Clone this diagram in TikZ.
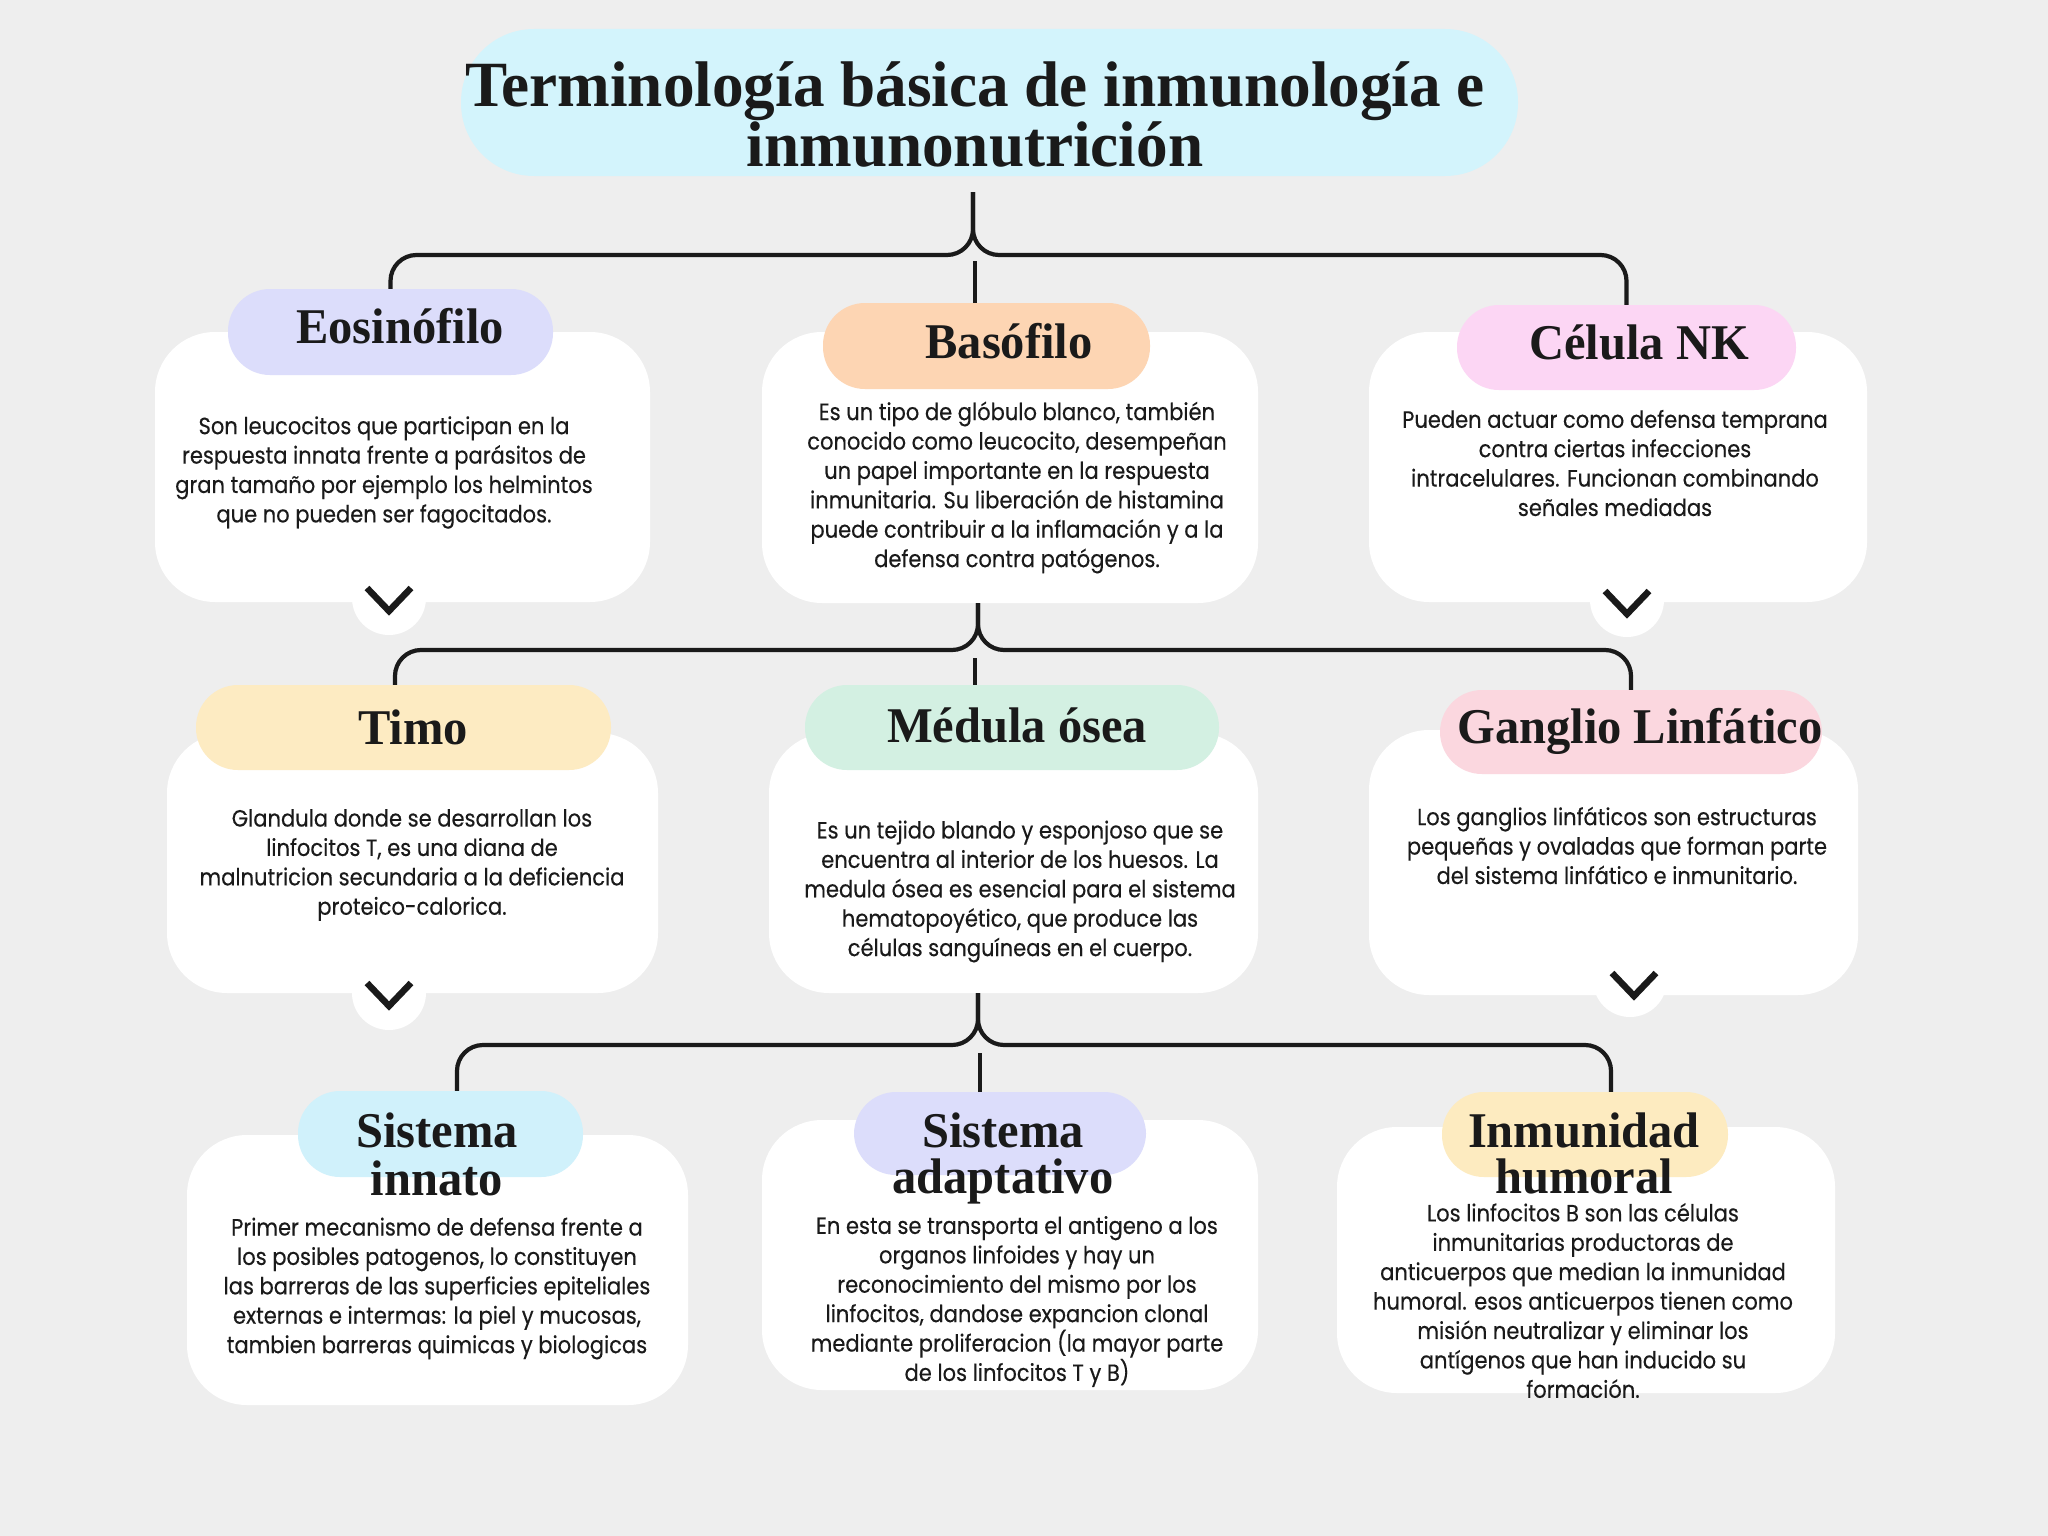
\documentclass[tikz,border=0pt]{standalone}
\usepackage{fontspec}
\newfontfamily\headfont[FakeStretch=0.97]{Liberation Serif}
\newfontfamily\titlefont[FakeStretch=0.98]{Liberation Serif}
\newfontfamily\bodyfont[FakeStretch=0.895,FakeBold=0.3]{Poppins}
\definecolor{bg}{HTML}{EEEEEE}
\definecolor{ink}{HTML}{1A1A1A}
\definecolor{ctitle}{HTML}{D3F4FC}
\definecolor{ceos}{HTML}{DCDDFB}
\definecolor{cbas}{HTML}{FDD5B3}
\definecolor{cnk}{HTML}{FCD6F4}
\definecolor{ctimo}{HTML}{FDEBC2}
\definecolor{cmed}{HTML}{D3F0E2}
\definecolor{cgan}{HTML}{FBD7DF}
\definecolor{cinn}{HTML}{D0F1FB}
\definecolor{cada}{HTML}{DCDDFB}
\definecolor{chum}{HTML}{FDEBC0}
\tikzset{
  conn/.style={draw=ink, line width=4.2pt, rounded corners=26pt},
  card/.style={fill=white, rounded corners=60pt, inner sep=0pt},
  pill/.style={rounded corners=42pt, inner sep=0pt},
  headtext/.style={font=\headfont\bfseries\fontsize{50}{50}\selectfont, text=ink, inner sep=0pt, anchor=base},
  titletext/.style={font=\titlefont\bfseries\fontsize{64.5}{64.5}\selectfont, text=ink, inner sep=0pt, anchor=base},
  bodytext/.style={font=\bodyfont\fontsize{23.5}{29.4}\selectfont, text=ink, align=center, inner sep=0pt},
  chev/.style={draw=ink, line width=6.5pt, line cap=butt, line join=miter},
  bump/.style={fill=white}
}
\begin{document}
\begin{tikzpicture}[x=1pt,y=-1pt]
\fill[bg] (0,0) rectangle (2048,1536);
\useasboundingbox (0,0) rectangle (2048,1536);

% ---------- title ----------
\node[pill, fill=ctitle, minimum width=1057pt, minimum height=147pt, rounded corners=73pt] (title) at (989.5,102.5) {};
\node[titletext] (titleA) at (975,107) {Terminología básica de inmunología e};
\node[titletext] (titleB) at (975,166) {inmunonutrición};

% ---------- cards ----------
\node[card, minimum width=495pt, minimum height=270pt] (eosC) at (402.5,467) {};
\node[card, minimum width=496pt, minimum height=271pt] (basC) at (1010,467.5) {};
\node[card, minimum width=498pt, minimum height=270pt] (nkC) at (1618,467) {};
\node[card, minimum width=491pt, minimum height=260pt] (timoC) at (412.5,863) {};
\node[card, minimum width=489pt, minimum height=260pt] (medC) at (1013.5,863) {};
\node[card, minimum width=489pt, minimum height=265pt] (ganC) at (1613.5,862.5) {};
\node[card, minimum width=501pt, minimum height=270pt] (innC) at (437.5,1270) {};
\node[card, minimum width=496pt, minimum height=270pt] (adaC) at (1010,1255) {};
\node[card, minimum width=498pt, minimum height=266pt] (humC) at (1586,1260) {};

% bumps under chevrons
\fill[bump] (389,598) circle (37pt);
\fill[bump] (1627,600) circle (37pt);
\fill[bump] (389,993) circle (37pt);
\fill[bump] (1630,980) circle (37pt);

% ---------- connectors ----------
\coordinate (b1t) at (973,192);
\coordinate (b1) at (973,255);
\coordinate (b1l) at (975,261);
\coordinate (b2) at (978,650);
\coordinate (b2l) at (975,658);
\coordinate (c2l) at (395,650);
\coordinate (b3) at (978,1045);
\coordinate (b3l) at (980,1053);
\coordinate (c3l) at (457,1045);
\coordinate (c3r) at (1611,1045);

% ---------- header pills ----------
\node[pill, fill=ceos, minimum width=325pt, minimum height=86pt] (eosH) at (390.5,332) {};
\node[pill, fill=cbas, minimum width=327pt, minimum height=86pt] (basH) at (986.5,346) {};
\node[pill, fill=cnk, minimum width=339pt, minimum height=85pt] (nkH) at (1626.5,347.5) {};
\node[pill, fill=ctimo, minimum width=415pt, minimum height=85pt] (timoH) at (403.5,727.5) {};
\node[pill, fill=cmed, minimum width=414pt, minimum height=85pt] (medH) at (1012,727.5) {};
\node[pill, fill=cgan, minimum width=382pt, minimum height=84pt] (ganH) at (1631,732) {};
\node[pill, fill=cinn, minimum width=285pt, minimum height=86pt] (innH) at (440.5,1134) {};
\node[pill, fill=cada, minimum width=292pt, minimum height=83pt] (adaH) at (1000,1133.5) {};
\node[pill, fill=chum, minimum width=286pt, minimum height=85pt] (humH) at (1585,1134.5) {};

\draw[conn] (b1t) -- (b1) -| (eosH.north);
\draw[conn] (b1t) -- (b1) -| (nkH.north);
\draw[conn] (b1l) -- (b1l |- basH.north);

\draw[conn] (b2 |- basC.south) -- (b2) -| (c2l |- timoH.north);
\draw[conn] (b2 |- basC.south) -- (b2) -| (ganH.north);
\draw[conn] (b2l) -- (b2l |- medH.north);

\draw[conn] (b3 |- medC.south) -- (b3) -| (c3l |- innH.north);
\draw[conn] (b3 |- medC.south) -- (b3) -| (c3r |- humH.north);
\draw[conn] (b3l) -- (b3l |- adaH.north);

% ---------- header texts ----------
\node[headtext] (eosN) at (400,343) {Eosinófilo};
\node[headtext] (basN) at (1009,358) {Basófilo};
\node[headtext] (nkN) at (1639,359) {Célula NK};
\node[headtext] (timoN) at (413,744) {Timo};
\node[headtext] (medN) at (1017,742) {Médula ósea};
\node[headtext] (ganN) at (1640,743) {Ganglio Linfático};
\node[headtext] (innNa) at (437,1147) {Sistema};
\node[headtext] (innNb) at (437,1195) {innato};
\node[headtext] (adaNa) at (1003,1147) {Sistema};
\node[headtext] (adaNb) at (1003,1193) {adaptativo};
\node[headtext] (humNa) at (1584,1147) {Inmunidad};
\node[headtext] (humNb) at (1584,1193) {humoral};

% ---------- body texts ----------
\node[bodytext] (eosT) at (384,472.5) {Son leucocitos que participan en la\\respuesta innata frente a parásitos de\\gran tamaño por ejemplo los helmintos\\que no pueden ser fagocitados.};
\node[bodytext] (basT) at (1017,487.5) {Es un tipo de glóbulo blanco, también\\conocido como leucocito, desempeñan\\un papel importante en la respuesta\\inmunitaria. Su liberación de histamina\\puede contribuir a la inflamación y a la\\defensa contra patógenos.};
\node[bodytext] (nkT) at (1615,463) {Pueden actuar como defensa temprana\\contra ciertas infecciones\\intracelulares. Funcionan combinando\\señales mediadas};
\node[bodytext] (timoT) at (412,865) {Glandula donde se desarrollan los\\linfocitos T, es una diana de\\malnutricion secundaria a la deficiencia\\proteico-calorica.};
\node[bodytext] (medT) at (1020,891.5) {Es un tejido blando y esponjoso que se\\encuentra al interior de los huesos. La\\medula ósea es esencial para el sistema\\hematopoyético, que produce las\\células sanguíneas en el cuerpo.};
\node[bodytext] (ganT) at (1617,845.5) {Los ganglios linfáticos son estructuras\\pequeñas y ovaladas que forman parte\\del sistema linfático e inmunitario.};
\node[bodytext] (innT) at (437,1288.5) {Primer mecanismo de defensa frente a\\los posibles patogenos, lo constituyen\\las barreras de las superficies epiteliales\\externas e intermas: la piel y mucosas,\\tambien barreras quimicas y biologicas};
\node[bodytext] (adaT) at (1017,1301.5) {En esta se transporta el antigeno a los\\organos linfoides y hay un\\reconocimiento del mismo por los\\linfocitos, dandose expancion clonal\\mediante proliferacion (la mayor parte\\de los linfocitos T y B)};
\node[bodytext] (humT) at (1583,1300.5) {Los linfocitos B son las células\\inmunitarias productoras de\\anticuerpos que median la inmunidad\\humoral. esos anticuerpos tienen como\\misión neutralizar y eliminar los\\antígenos que han inducido su\\formación.};

% ---------- chevrons ----------
\draw[chev] (367,588) -- (389,611) -- (411,588);
\draw[chev] (1605,591) -- (1627,614) -- (1649,591);
\draw[chev] (367,983) -- (389,1006) -- (411,983);
\draw[chev] (1612,973) -- (1634,996) -- (1656,973);
\end{tikzpicture}
\end{document}
